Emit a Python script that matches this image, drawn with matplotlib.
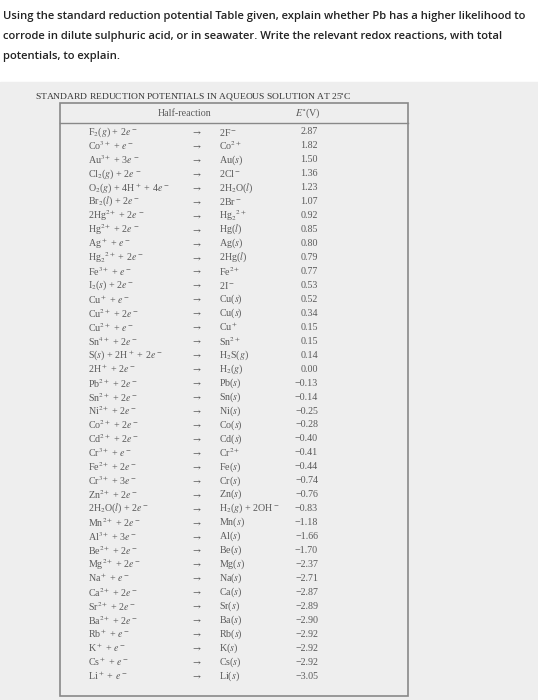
import matplotlib
matplotlib.use("Agg")
import matplotlib.pyplot as plt
from matplotlib.patches import Rectangle

plt.rcParams["mathtext.fontset"] = "stix"

question = [
    "Using the standard reduction potential Table given, explain whether Pb has a higher likelihood to",
    "corrode in dilute sulphuric acid, or in seawater. Write the relevant redox reactions, with total",
    "potentials, to explain.",
]

reactants = [
    r"F$_2$($g$) + 2$e^-$", r"Co$^{3+}$ + $e^-$", r"Au$^{3+}$ + 3$e^-$", r"Cl$_2$($g$) + 2$e^-$",
    r"O$_2$($g$) + 4H$^+$ + 4$e^-$", r"Br$_2$($l$) + 2$e^-$", r"2Hg$^{2+}$ + 2$e^-$", r"Hg$^{2+}$ + 2$e^-$",
    r"Ag$^+$ + $e^-$", r"Hg$_2$$^{2+}$ + 2$e^-$", r"Fe$^{3+}$ + $e^-$", r"I$_2$($s$) + 2$e^-$",
    r"Cu$^+$ + $e^-$", r"Cu$^{2+}$ + 2$e^-$", r"Cu$^{2+}$ + $e^-$", r"Sn$^{4+}$ + 2$e^-$",
    r"S($s$) + 2H$^+$ + 2$e^-$", r"2H$^+$ + 2$e^-$", r"Pb$^{2+}$ + 2$e^-$", r"Sn$^{2+}$ + 2$e^-$",
    r"Ni$^{2+}$ + 2$e^-$", r"Co$^{2+}$ + 2$e^-$", r"Cd$^{2+}$ + 2$e^-$", r"Cr$^{3+}$ + $e^-$",
    r"Fe$^{2+}$ + 2$e^-$", r"Cr$^{3+}$ + 3$e^-$", r"Zn$^{2+}$ + 2$e^-$", r"2H$_2$O($l$) + 2$e^-$",
    r"Mn$^{2+}$ + 2$e^-$", r"Al$^{3+}$ + 3$e^-$", r"Be$^{2+}$ + 2$e^-$", r"Mg$^{2+}$ + 2$e^-$",
    r"Na$^+$ + $e^-$", r"Ca$^{2+}$ + 2$e^-$", r"Sr$^{2+}$ + 2$e^-$", r"Ba$^{2+}$ + 2$e^-$",
    r"Rb$^+$ + $e^-$", r"K$^+$ + $e^-$", r"Cs$^+$ + $e^-$", r"Li$^+$ + $e^-$",
]
products = [
    r"2F$^-$", r"Co$^{2+}$", r"Au($s$)", r"2Cl$^-$", r"2H$_2$O($l$)", r"2Br$^-$", r"Hg$_2$$^{2+}$",
    r"Hg($l$)", r"Ag($s$)", r"2Hg($l$)", r"Fe$^{2+}$", r"2I$^-$", r"Cu($s$)", r"Cu($s$)", r"Cu$^+$",
    r"Sn$^{2+}$", r"H$_2$S($g$)", r"H$_2$($g$)", r"Pb($s$)", r"Sn($s$)", r"Ni($s$)", r"Co($s$)",
    r"Cd($s$)", r"Cr$^{2+}$", r"Fe($s$)", r"Cr($s$)", r"Zn($s$)", r"H$_2$($g$) + 2OH$^-$", r"Mn($s$)",
    r"Al($s$)", r"Be($s$)", r"Mg($s$)", r"Na($s$)", r"Ca($s$)", r"Sr($s$)", r"Ba($s$)", r"Rb($s$)",
    r"K($s$)", r"Cs($s$)", r"Li($s$)",
]
potentials = [
    2.87, 1.82, 1.50, 1.36, 1.23, 1.07, 0.92, 0.85, 0.80, 0.79, 0.77, 0.53, 0.52, 0.34, 0.15, 0.15,
    0.14, 0.00, -0.13, -0.14, -0.25, -0.28, -0.40, -0.41, -0.44, -0.74, -0.76, -0.83, -1.18, -1.66,
    -1.70, -2.37, -2.71, -2.87, -2.89, -2.90, -2.92, -2.92, -2.92, -3.05,
]

fig = plt.figure(figsize=(5.38, 7.0), dpi=100)
ax = fig.add_axes([0, 0, 1, 1])
ax.set_xlim(0, 538)
ax.set_ylim(700, 0)
ax.axis("off")

# photo background of the page
ax.add_patch(Rectangle((0, 82), 538, 618, color="#eeeeee", zorder=0))

for i, line in enumerate(question):
    ax.text(3, 17 + i * 20, line, fontsize=8.1, family="Open Sans", weight="semibold",
            color="#222222", va="center")

ink = "#5a5a5a"
ax.text(35, 97, r"STANDARD REDUCTION POTENTIALS IN AQUEOUS SOLUTION AT 25$^{\circ}$C",
        fontsize=6.8, family="Liberation Serif", color="#333333", va="center")
ax.add_patch(Rectangle((60, 103), 348, 593, fill=False, ec="#888888", lw=1.2, zorder=2))
ax.plot([60, 408], [123, 123], color="#888888", lw=1.0)
ax.text(185, 113, "Half-reaction", fontsize=7.2, family="Liberation Serif", color=ink, ha="center", va="center")
ax.text(308, 113, r"$E^{\circ}$(V)", fontsize=7.2, family="Liberation Serif", color=ink, ha="center", va="center")

y0, dy = 132, 13.95
for i, (r, p, e) in enumerate(zip(reactants, products, potentials)):
    y = y0 + i * dy
    ax.text(88, y, r, fontsize=7.2, family="Liberation Serif", color=ink, va="center")
    ax.text(197, y, r"$\rightarrow$", fontsize=6.5, color=ink, ha="center", va="center")
    ax.text(219, y, p, fontsize=7.2, family="Liberation Serif", color=ink, va="center")
    ax.text(318, y, f"{e:.2f}".replace("-", "\u2212"), fontsize=7.2, family="Liberation Serif",
            color=ink, ha="right", va="center")

fig.savefig("out.png", dpi=100)
